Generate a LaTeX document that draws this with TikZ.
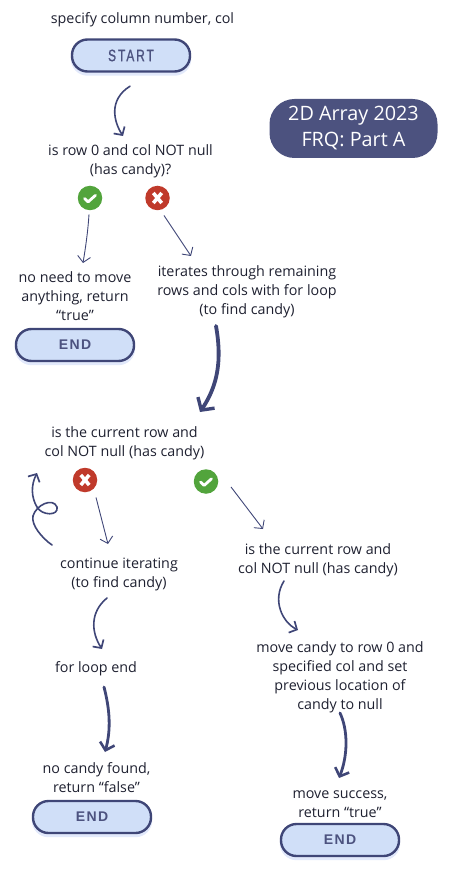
\documentclass[tikz,border=0pt]{standalone}
\usepackage{fontspec}
\setmainfont{Open Sans}
\newfontfamily\startfont[LetterSpace=12,FakeStretch=0.72,FakeBold=1]{Liberation Sans}
\newfontfamily\endfont[LetterSpace=10]{Liberation Sans Bold}
\usetikzlibrary{arrows.meta}
\definecolor{inkblue}{HTML}{3F4677}
\definecolor{panelblue}{HTML}{4C527F}
\definecolor{boxblue}{HTML}{D0DFF8}
\definecolor{shadowblue}{HTML}{E2E9FB}
\definecolor{textdark}{HTML}{1E2030}
\definecolor{yesgreen}{HTML}{52A43C}
\definecolor{nored}{HTML}{C03A2B}
\tikzset{
    txt/.style={inner sep=0pt, align=center, text=textdark, font=\fontsize{14.3}{19}\selectfont},
    endbox/.style={draw=inkblue, line width=2.4pt, fill=boxblue, rounded corners=15.5pt,
        minimum width=118pt, minimum height=32pt, inner sep=0pt, text=panelblue,
        preaction={fill=shadowblue, draw=shadowblue, transform canvas={yshift=-3pt}}},
    yesmark/.style={circle, fill=yesgreen, minimum size=24.5pt, inner sep=0pt,
        path picture={\draw[white, line width=2.8pt, line cap=round, line join=round]
            ([shift={(-5.5,0.5)}]path picture bounding box.center) -- ++(3.6,3.4) -- ++(7.4,-6.6);}},
    nomark/.style={circle, fill=nored, minimum size=24.5pt, inner sep=0pt,
        path picture={\draw[white, line width=3.6pt]
            ([shift={(-4.2,-5)}]path picture bounding box.center) -- ++(8.4,10)
            ([shift={(4.2,-5)}]path picture bounding box.center) -- ++(-8.4,10);}},
    thinarrow/.style={draw=inkblue, line width=0.9pt, -{Straight Barb[length=6pt,width=13pt,line width=0.9pt]}},
    midarrow/.style={draw=inkblue, line width=1.6pt, line cap=round, -{Straight Barb[length=6pt,width=13pt,line width=1.7pt]}},
    thickarrow/.style={draw=inkblue, line width=2.8pt, line cap=round, -{Straight Barb[length=7pt,width=15pt,line width=2.6pt]}},
    hugearrow/.style={draw=inkblue, line width=3.8pt, line cap=round, -{Straight Barb[length=9pt,width=20pt,line width=3.4pt]}},
}
\begin{document}
\begin{tikzpicture}[x=1pt, y=-1pt]
    \useasboundingbox (0,0) rectangle (474,890);

    \node[txt] (spec) at (142.5,20) {specify column number, col};
    \node[endbox, font=\startfont\fontsize{16.5}{17}\selectfont] (startbox) at (131,55.5) {START};

    \node[rounded corners=25pt, fill=panelblue, text=white, minimum width=168pt, minimum height=59pt,
        inner sep=0pt, align=center, font=\fontsize{19.8}{26}\selectfont] (title) at (353.5,128.5) {2D Array 2023\\FRQ: Part A};

    \node[txt] (rowq) at (130.5,161) {is row 0 and col NOT null\\(has candy)?};
    \node[yesmark] (yesa) at (90,198) {};
    \node[nomark] (noa) at (157.5,198) {};

    \node[txt] (nomove) at (75,296) {no need to move\\anything, return\\“true”};
    \node[txt] (iter) at (247,292) {iterates through remaining\\rows and cols with for loop\\(to find candy)};
    \node[endbox, font=\endfont\fontsize{14}{14}\selectfont] (enda) at (75,345) {END};

    \node[txt] (bodyq) at (124.5,443.5) {is the current row and\\col NOT null (has candy)};
    \node[nomark] (nob) at (85,480) {};
    \node[yesmark] (yesb) at (206,481.5) {};

    \node[txt] (cont) at (119,574.5) {continue iterating\\(to find candy)};
    \node[txt] (rightq) at (318,560.5) {is the current row and\\col NOT null (has candy)};
    \node[txt] (loopend) at (96,668.5) {for loop end};
    \node[txt] (nofound) at (96.5,777.5) {no candy found,\\return “false”};
    \node[endbox, font=\endfont\fontsize{14}{14}\selectfont] (endb) at (92,817) {END};

    \node[txt] (movec) at (340,677.5) {move candy to row 0 and\\specified col and set\\previous location of\\candy to null};
    \node[txt] (moves) at (340,804.5) {move success,\\return “true”};
    \node[endbox, font=\endfont\fontsize{14}{14}\selectfont] (endc) at (340,840) {END};

    \draw[midarrow] ([shift={(-1,13.5)}]startbox.south) .. controls (108,100) and (114,122) .. ([shift={(-7.5,-25)}]rowq.center);
    \draw[thinarrow] ([shift={(-1,4)}]yesa.south) .. controls (88,230) and (86,245) .. ([shift={(8,-33)}]nomove.center);
    \draw[thinarrow] ([shift={(6.5,5)}]noa.south) -- ([shift={(-56,-36)}]iter.center);
    \draw[hugearrow] ([shift={(-31,34)}]iter.center) .. controls (222,360) and (218,385) .. ([shift={(75.5,-31.5)}]bodyq.center);
    \draw[thinarrow] ([shift={(11,5)}]nob.south) -- ([shift={(-11,-30.5)}]cont.center);
    \draw[thinarrow] ([shift={(25,-7)}]yesb.south) -- ([shift={(-55,-31.5)}]rightq.center);
    \draw[midarrow] ([shift={(-12,23.5)}]cont.center) .. controls (90,612) and (91,632) .. ([shift={(6,-19.5)}]loopend.center);
    \draw[midarrow] ([shift={(-34,20.5)}]rightq.center) .. controls (272,600) and (282,622) .. ([shift={(-42,-47.5)}]movec.center);
    \draw[thickarrow] ([shift={(8,18.5)}]loopend.center) .. controls (110,710) and (111,730) .. ([shift={(8.5,-25.5)}]nofound.center);
    \draw[thickarrow] ([shift={(0,35.5)}]movec.center) .. controls (348,730) and (348,755) .. ([shift={(-1,-26.5)}]moves.center);
    \draw[midarrow] ([shift={(-67,-29.5)}]cont.center) .. controls (42,538) and (31,525) .. (33,516)
        .. controls (36,505) and (53,497) .. (57,507)
        .. controls (59,516) and (42,516) .. (37,507)
        .. controls (31,497) and (31,485) .. ([shift={(-87.5,29.5)}]bodyq.center);
\end{tikzpicture}
\end{document}
